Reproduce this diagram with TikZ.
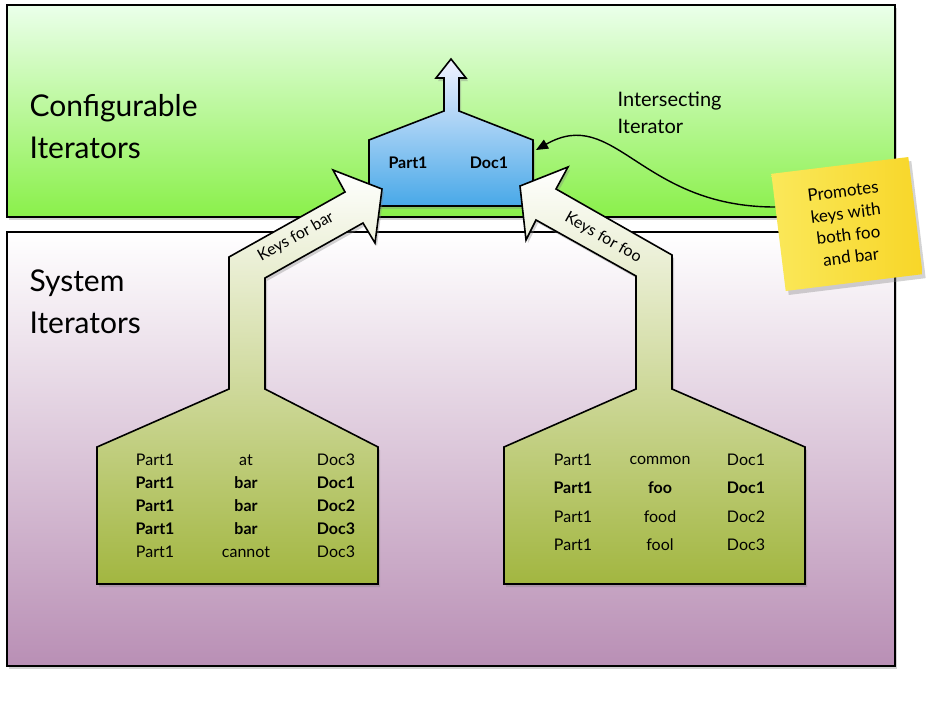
\documentclass[tikz,border=0pt]{standalone}
\usepackage{fontspec}
\setmainfont{Lato}
\usetikzlibrary{shadows,arrows.meta}

\tikzset{
	panel/.style={draw=black, line width=1.6pt, drop shadow={opacity=.35, shadow xshift=2pt, shadow yshift=-3pt}},
	block/.style={draw=black, line width=1.6pt, line join=miter, drop shadow={opacity=.35, shadow xshift=2pt, shadow yshift=-3pt}},
	big/.style={font=\fontsize{30}{42}\selectfont, align=left, anchor=west},
	cell/.style={font=\fontsize{16}{18}\selectfont},
	bcell/.style={font=\fontsize{16}{18}\selectfont\bfseries},
}

\begin{document}
\begin{tikzpicture}[x=1pt,y=-1pt]
			\useasboundingbox (0,0) rectangle (936,707);

			%% panels
			\path[panel, top color=green!8!white, bottom color={rgb,255:red,138;green,240;blue,74}] (7,5) rectangle (895,217);
			\path[panel, top color=white, bottom color={rgb,255:red,185;green,143;blue,181}] (7,232) rectangle (895,666);
			\node[big] (cfg) at (26,127) {Configurable\\Iterators};
			\node[big] (sys) at (26,302) {System\\Iterators};

			%% intersecting iterator
			\path[block, top color=blue!5!white, bottom color={rgb,255:red,72;green,168;blue,232}]
				(369,206) -- (369,140) -- (444,111) -- (444,78) -- (436,78) -- (451,59) -- (466,78)
				-- (459,78) -- (459,111) -- (533,140) -- (533,206) -- cycle;
			\node[bcell] (ip) at (408,163) {Part1};
			\node[bcell] (id) at (489,163) {Doc1};
			\coordinate (itip) at (536,150);
			\node[font=\fontsize{20}{27}\selectfont, align=left, anchor=west] (ilabel) at (614,113) {Intersecting\\Iterator};

			%% bar iterator
			\path[block, top color=white, bottom color={rgb,255:red,162;green,182;blue,64}]
				(97,584) -- (97,447) -- (229,389) -- (229,257) -- (345,192) -- (333,170) -- (382,189)
				-- (375,243) -- (363,223) -- (265,278) -- (265,389) -- (378,447) -- (378,584) -- cycle;
			\node[cell, rotate=29.5] (kbar) at (296,237) {Keys for bar};
			\foreach \y/\w/\s/\d in {460/at/cell/Doc3, 483/bar/bcell/Doc1, 506/bar/bcell/Doc2, 529/bar/bcell/Doc3, 552/cannot/cell/Doc3} {
				\node[\s] (bp\y) at (155,\y) {Part1};
				\node[\s] (bw\y) at (246,\y) {\w};
				\node[\s] (bd\y) at (336,\y) {\d};
			}

			%% foo iterator
			\path[block, top color=white, bottom color={rgb,255:red,162;green,182;blue,64}]
				(504,584) -- (504,447) -- (636,389) -- (636,276) -- (536,220) -- (526,240) -- (520,186)
				-- (568,167) -- (556,189) -- (672,255) -- (672,389) -- (805,447) -- (805,584) -- cycle;
			\node[cell, rotate=-29.5] (kfoo) at (603,238) {Keys for foo};
			\foreach \y/\w/\s/\d in {460/common/cell/Doc1, 488/foo/bcell/Doc1, 517/food/cell/Doc2, 545/fool/cell/Doc3} {
				\node[\s] (fp\y) at (573,\y) {Part1};
				\node[\s] (fw\y) at (660,\y) {\w};
				\node[\s] (fd\y) at (746,\y) {\d};
			}

			%% note
			\node[rotate=7, minimum width=138pt, minimum height=118pt, inner sep=0pt,
				left color={rgb,255:red,250;green,232;blue,90}, right color={rgb,255:red,248;green,214;blue,40},
				drop shadow={opacity=.35, shadow xshift=3pt, shadow yshift=-4pt},
				font=\fontsize{17}{22}\selectfont, align=center] (note) at (847,224) {Promotes\\keys with\\both foo\\and bar};
			\coordinate (nstart) at (775,207);
			\draw[-{Triangle[length=12pt,width=10pt]}, line width=1.4pt] (nstart) .. controls (640,207) and (615,105) .. (itip);
		\end{tikzpicture}
\end{document}
